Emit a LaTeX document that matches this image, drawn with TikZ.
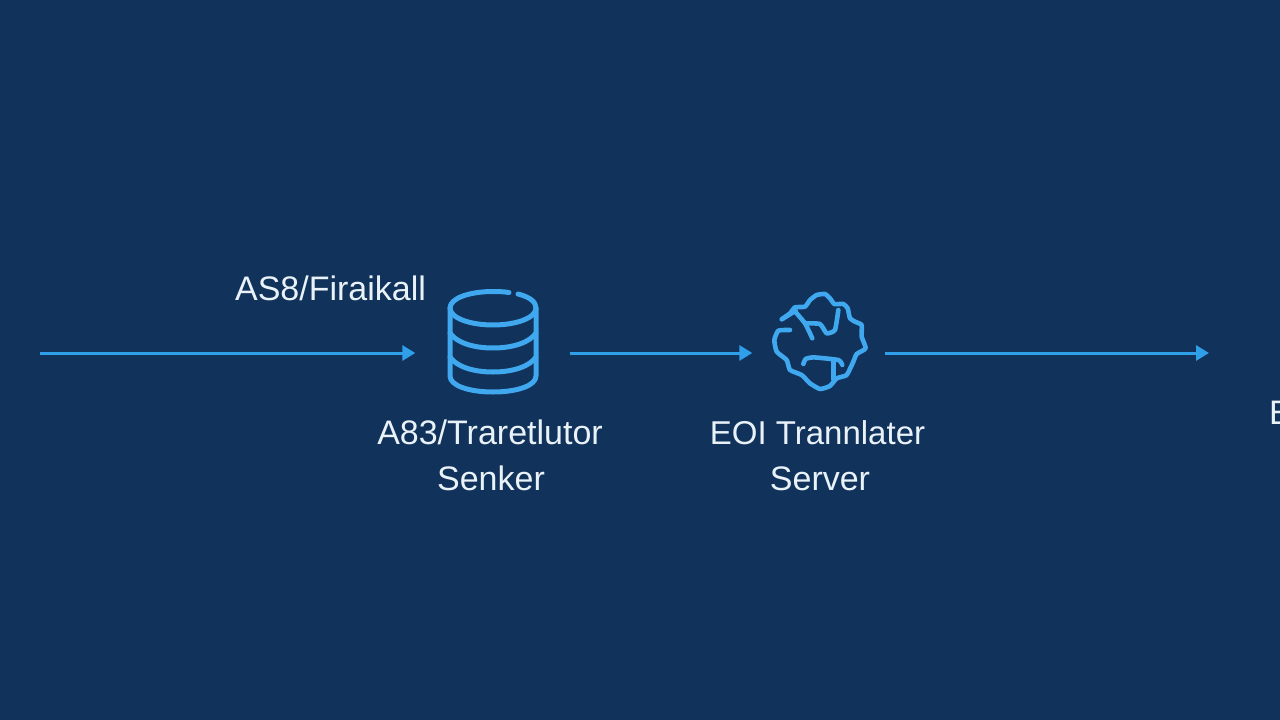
\documentclass[tikz,border=0pt]{standalone}
\usepackage{fontspec}
\setmainfont{Liberation Sans}
\definecolor{bgnavy}{HTML}{11325A}
\definecolor{flow}{HTML}{2F9FEA}
\definecolor{icon}{HTML}{3FA8EE}
\definecolor{lbl}{HTML}{E9F2F8}
\usetikzlibrary{arrows.meta}
\tikzset{
  flowline/.style={draw=flow,line width=3pt,-{Triangle[length=13pt,width=15pt]}},
  iconline/.style={draw=icon,line width=5pt,line cap=round,line join=round},
  blobline/.style={draw=icon,line width=4.6pt,line cap=round,line join=round},
  hold/.style={inner sep=0pt,minimum height=90pt},
  lab/.style={text=lbl,font=\fontsize{34}{40}\selectfont,inner sep=0pt,anchor=base}
}
\begin{document}
\begin{tikzpicture}[x=1pt,y=-1pt]
\useasboundingbox (0,0) rectangle (1280,720);
\fill[bgnavy] (0,0) rectangle (1280,720);
\clip (0,0) rectangle (1280,720);
\coordinate (src) at (40,353);
\coordinate (dst) at (1209,353);
\node[hold,minimum width=154pt] (db) at (492.5,353) {};
\node[hold,minimum width=132pt] (tr) at (818.5,353) {};
\draw[flowline] (src) -- (db.west);
\draw[flowline] (db.east) -- (tr.west);
\draw[flowline] (tr.east) -- (dst);
% cylinder icon
\draw[iconline] (518,294) .. controls (530,297) and (536,302) .. (536,308)
  .. controls (536,318) and (516,325) .. (493,325)
  .. controls (470,325) and (450,318) .. (450,308)
  .. controls (450,298) and (470,291.5) .. (493,291.5)
  .. controls (498,291.5) and (504,291.7) .. (509,292.5);
\draw[iconline] (450,308) -- (450,376) .. controls (450,386) and (470,392) .. (493,392)
  .. controls (516,392) and (536,386) .. (536,376) -- (536,308);
\draw[iconline] (450,333) .. controls (456,342) and (472,348) .. (493,348)
  .. controls (514,348) and (530,342) .. (536,333);
\draw[iconline] (450,357) .. controls (456,366) and (472,372) .. (493,372)
  .. controls (514,372) and (530,366) .. (536,357);
% blob icon
\begin{scope}[shift={(755,280)},x=0.3333pt,y=-0.3333pt]
\draw[blobline] plot[smooth,tension=0.3] coordinates {(80,118) (105,100) (120,82) (150,80) (165,60) (185,45) (210,42) (225,55) (238,72) (265,72) (278,85) (285,115) (300,125) (320,135) (320,170) (332,205) (305,222) (295,245) (275,285) (245,295) (225,318) (195,327) (165,310) (140,285) (105,270) (95,240) (65,215) (58,180) (70,152) (105,150)};
\draw[blobline] (82,117) -- (122,92);
\draw[blobline] plot[smooth,tension=0.3] coordinates {(118,92) (150,130) (172,175)};
\draw[blobline] plot[smooth,tension=0.3] coordinates {(150,130) (195,132) (215,160) (240,150) (250,90)};
\draw[blobline] plot[smooth,tension=0.3] coordinates {(145,252) (152,237) (175,232) (250,240) (262,255)};
\draw[blobline] plot[smooth,tension=0.3] coordinates {(235,245) (235,298)};
\end{scope}
% labels
\node[lab] (t1) at (330.5,300) {AS8/Firaikall};
\node[lab] (t2) at (490,444) {A83/Traretlutor};
\node[lab] (t3) at (491,490) {Senker};
\node[lab,font=\fontsize{33}{40}\selectfont] (t4) at (817.5,444) {EOI Trannlater};
\node[lab] (t5) at (820,490) {Server};
\node[lab,anchor=base west] (t6) at (1269,424) {E};
\end{tikzpicture}
\end{document}
